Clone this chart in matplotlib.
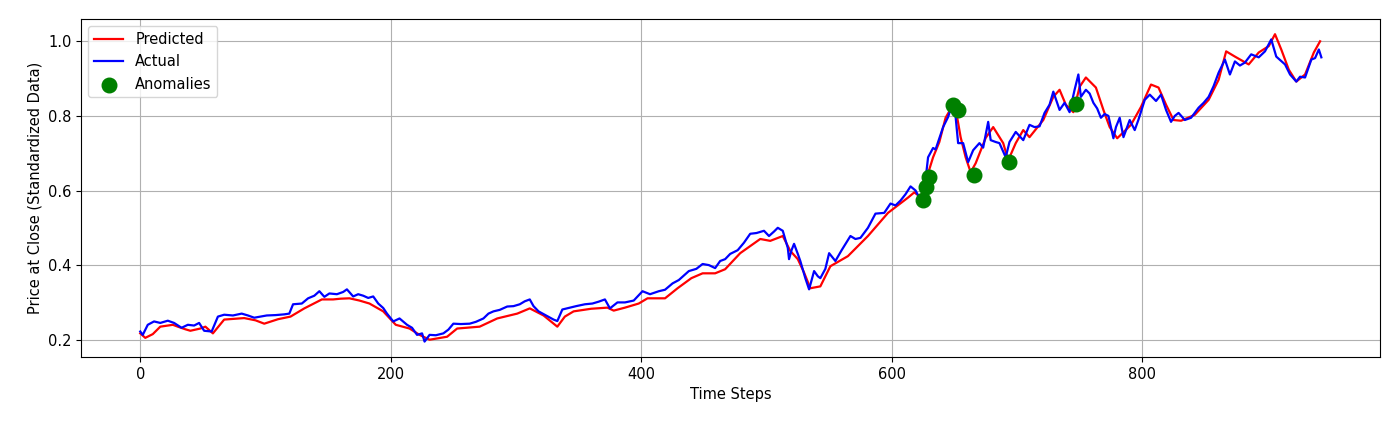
import matplotlib
matplotlib.use('Agg')
import matplotlib.pyplot as plt
import numpy as np

# actual close price (standardized)
actual_t = [0, 2, 6, 11, 16, 22, 27, 33, 38, 43, 47, 51, 57, 62, 67, 74, 81, 86, 91, 96,
            101, 108, 115, 119, 122, 129, 134, 139, 143, 147, 151, 157, 162, 165, 170, 174,
            178, 182, 186, 190, 194, 197, 202, 207, 213, 217, 221, 225, 227, 231, 236, 242,
            246, 250, 256, 263, 268, 274, 278, 282, 287, 293, 298, 303, 307, 311, 314, 318,
            324, 330, 333, 337, 342, 348, 355, 361, 366, 371, 375, 381, 387, 394, 401, 407,
            414, 419, 425, 430, 438, 444, 449, 454, 459, 463, 467, 471, 477, 482, 487, 492,
            498, 502, 506, 509, 513, 517, 518, 520, 522, 525, 527, 531, 534, 538, 541, 543,
            547, 550, 555, 560, 567, 571, 575, 581, 587, 594, 599, 603, 607, 611, 615, 619,
            622, 624, 626, 629, 633, 635, 638, 641, 645, 649, 651, 653, 657, 661, 665, 670,
            673, 677, 679, 683, 686, 691, 694, 699, 705, 710, 714, 718, 722, 726, 729, 734,
            738, 742, 746, 749, 751, 755, 758, 761, 764, 767, 770, 773, 777, 779, 782, 785,
            790, 794, 797, 802, 806, 811, 815, 819, 823, 826, 829, 834, 839, 845, 849, 853,
            857, 861, 866, 870, 874, 878, 882, 887, 893, 898, 903, 907, 910, 914, 918, 923,
            926, 930, 935, 938, 941, 943]
actual_v = [0.222, 0.213, 0.240, 0.249, 0.245, 0.251, 0.245, 0.232, 0.240, 0.238, 0.245, 0.224,
            0.222, 0.262, 0.267, 0.265, 0.270, 0.265, 0.259, 0.262, 0.265, 0.266, 0.268, 0.270,
            0.295, 0.297, 0.311, 0.318, 0.330, 0.315, 0.324, 0.322, 0.328, 0.335, 0.316, 0.322,
            0.318, 0.312, 0.316, 0.297, 0.285, 0.270, 0.249, 0.257, 0.240, 0.232, 0.213, 0.217,
            0.195, 0.213, 0.212, 0.217, 0.227, 0.243, 0.242, 0.243, 0.248, 0.257, 0.270, 0.276,
            0.280, 0.289, 0.290, 0.295, 0.303, 0.308, 0.290, 0.276, 0.265, 0.254, 0.250, 0.281,
            0.285, 0.290, 0.295, 0.297, 0.302, 0.308, 0.284, 0.300, 0.300, 0.305, 0.330, 0.322,
            0.330, 0.334, 0.351, 0.360, 0.384, 0.390, 0.403, 0.400, 0.392, 0.411, 0.416, 0.430,
            0.440, 0.460, 0.484, 0.486, 0.492, 0.478, 0.490, 0.500, 0.492, 0.446, 0.416, 0.440,
            0.457, 0.430, 0.411, 0.365, 0.335, 0.384, 0.370, 0.365, 0.390, 0.432, 0.411, 0.440,
            0.478, 0.470, 0.473, 0.500, 0.538, 0.540, 0.565, 0.560, 0.573, 0.590, 0.611, 0.600,
            0.581, 0.585, 0.600, 0.689, 0.714, 0.710, 0.740, 0.770, 0.797, 0.838, 0.797, 0.727,
            0.727, 0.676, 0.708, 0.727, 0.715, 0.784, 0.735, 0.730, 0.727, 0.689, 0.730, 0.757,
            0.735, 0.776, 0.770, 0.772, 0.808, 0.830, 0.865, 0.816, 0.835, 0.810, 0.870, 0.911,
            0.851, 0.870, 0.860, 0.835, 0.820, 0.795, 0.805, 0.800, 0.740, 0.770, 0.795, 0.743,
            0.789, 0.762, 0.790, 0.843, 0.857, 0.840, 0.857, 0.816, 0.784, 0.800, 0.808, 0.789,
            0.795, 0.822, 0.835, 0.851, 0.880, 0.916, 0.951, 0.911, 0.946, 0.935, 0.943, 0.965,
            0.957, 0.973, 1.005, 0.959, 0.950, 0.938, 0.911, 0.892, 0.905, 0.903, 0.951, 0.955,
            0.978, 0.957]

# model prediction
pred_t = [0, 4, 10, 16, 26, 30, 36, 40, 48, 52, 58, 67, 83, 92, 99, 110, 120, 131, 145, 154,
          160, 167, 175, 183, 194, 204, 215, 223, 231, 245, 253, 271, 285, 301, 311, 322, 333,
          339, 346, 360, 373, 378, 387, 398, 405, 419, 429, 440, 449, 459, 467, 479, 495, 503,
          513, 519, 525, 530, 535, 543, 551, 565, 581, 597, 613, 618, 622, 625, 629, 633, 638,
          643, 649, 651, 655, 659, 663, 667, 675, 681, 689, 693, 699, 705, 710, 721, 729, 734,
          739, 745, 750, 755, 763, 769, 774, 780, 791, 799, 807, 813, 819, 825, 831, 842, 853,
          861, 867, 874, 885, 893, 901, 906, 911, 917, 923, 930, 937, 942]
pred_v = [0.217, 0.205, 0.215, 0.235, 0.240, 0.235, 0.228, 0.224, 0.230, 0.235, 0.217, 0.254,
          0.258, 0.252, 0.243, 0.255, 0.262, 0.284, 0.308, 0.308, 0.310, 0.311, 0.305, 0.297,
          0.276, 0.240, 0.230, 0.213, 0.200, 0.208, 0.230, 0.235, 0.257, 0.270, 0.284, 0.265,
          0.235, 0.262, 0.276, 0.283, 0.286, 0.278, 0.286, 0.297, 0.311, 0.311, 0.338, 0.365,
          0.378, 0.378, 0.389, 0.432, 0.470, 0.465, 0.478, 0.438, 0.416, 0.380, 0.338, 0.343,
          0.397, 0.424, 0.478, 0.540, 0.581, 0.595, 0.585, 0.592, 0.646, 0.689, 0.730, 0.795,
          0.830, 0.820, 0.743, 0.689, 0.649, 0.673, 0.741, 0.770, 0.727, 0.681, 0.727, 0.762,
          0.743, 0.789, 0.851, 0.870, 0.830, 0.810, 0.878, 0.903, 0.876, 0.816, 0.770, 0.740,
          0.776, 0.824, 0.884, 0.876, 0.830, 0.789, 0.787, 0.803, 0.843, 0.897, 0.973, 0.959,
          0.938, 0.970, 0.987, 1.019, 0.978, 0.924, 0.892, 0.911, 0.970, 1.000]

# flagged points
anom_t = [625, 627, 630, 649, 653, 666, 694, 747]
anom_v = [0.575, 0.610, 0.635, 0.830, 0.815, 0.642, 0.676, 0.832]

plt.rcParams['font.size'] = 10.5

fig, ax = plt.subplots(figsize=(14, 4.28), dpi=100)
fig.subplots_adjust(left=0.058, right=0.986, top=0.956, bottom=0.166)

ax.plot(pred_t, pred_v, color='red', lw=1.6, label='Predicted')
ax.plot(actual_t, actual_v, color='blue', lw=1.6, label='Actual')
ax.scatter(anom_t, anom_v, color='green', s=110, label='Anomalies', zorder=3)

ax.set_xlabel('Time Steps')
ax.set_ylabel('Price at Close (Standardized Data)')
ax.grid(True)
ax.legend(loc='upper left')

plt.savefig('out.png')
